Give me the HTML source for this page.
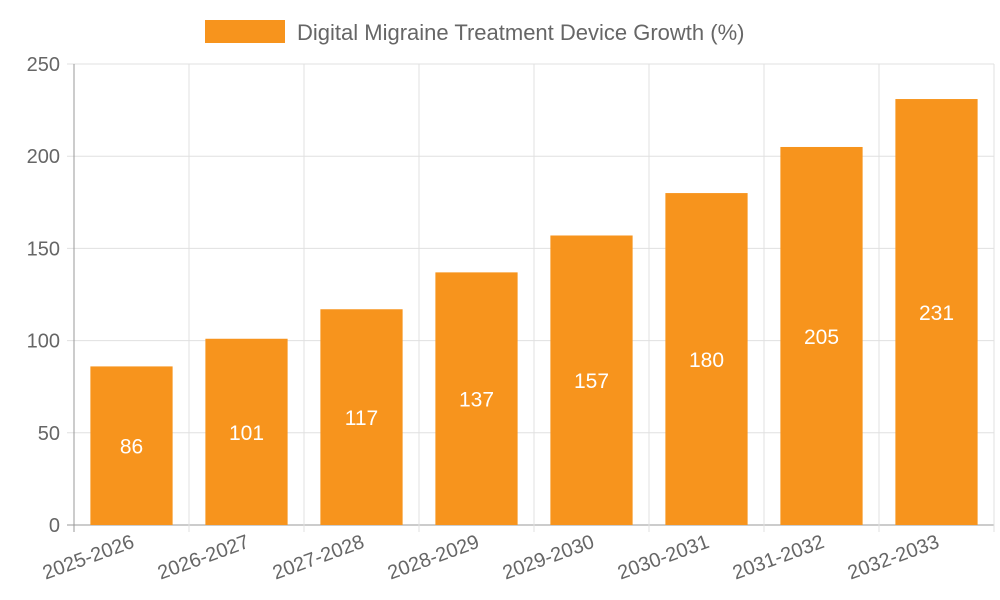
<!DOCTYPE html>
<html><head><meta charset="utf-8"><style>
html,body{margin:0;padding:0;background:#fff;}
svg{display:block;font-family:"Liberation Sans",sans-serif;}
</style></head><body>
<svg id="chart" width="1000" height="600">
<g id="legend">
<rect x="205" y="20" width="80" height="23" fill="#F7941D"></rect>
<text x="297" y="40" font-size="22" fill="#666">Digital Migraine Treatment Device Growth (%)</text>
</g>
<g id="grid"></g>
<g id="bars"></g>
<g id="axes"></g>
</svg>
<script>
const categories=["2025-2026","2026-2027","2027-2028","2028-2029","2029-2030","2030-2031","2031-2032","2032-2033"];
const values=[86,101,117,137,157,180,205,231];
const yTicks=[0,50,100,150,200,250];
const L=74,R=994,T=64,B=525,yMax=250;
const NS="http://www.w3.org/2000/svg";
const band=(R-L)/categories.length;
const x=i=>L+band*i;
const y=v=>B-(v/yMax)*(B-T);
function mk(tag,attrs,parent,txt){const e=document.createElementNS(NS,tag);for(const k in attrs)e.setAttribute(k,attrs[k]);if(txt!==undefined)e.textContent=txt;parent.appendChild(e);return e;}
const grid=document.getElementById('grid'),bars=document.getElementById('bars'),axes=document.getElementById('axes');
yTicks.forEach(t=>{
 const g=mk('line',{x1:L-7,x2:R,y1:y(t),y2:y(t),stroke:t===0?'#999':'#e0e0e0','stroke-width':1},grid);
 
 
 const lb=mk('text',{x:L-14,y:y(t)+7,'text-anchor':'end','font-size':20,fill:'#666'},axes,t);
 
 
});
for(let i=0;i<=categories.length;i++){
 const g=mk('line',{x1:x(i),x2:x(i),y1:T,y2:B+7,stroke:i===0?'#999':'#e0e0e0','stroke-width':1},grid);
 
 
}
const bw=band*0.715;
categories.forEach((c,i)=>{
 const cx=x(i)+band/2;
 const r=mk('rect',{x:cx-bw/2,y:y(values[i]),width:bw,height:B-y(values[i]),fill:'#F7941D'},bars);
 
 
 const v=mk('text',{x:cx,y:(y(values[i])+B)/2+8,'text-anchor':'middle','font-size':21,fill:'#fff'},bars,values[i]);
 
 
 const lx=cx+4,ly=B+22;
 const t=mk('text',{x:lx,y:ly,'text-anchor':'end','font-size':20,fill:'#666',transform:`rotate(-20 ${lx} ${ly})`},axes,c);
 
 
});
</script>
</body></html>
